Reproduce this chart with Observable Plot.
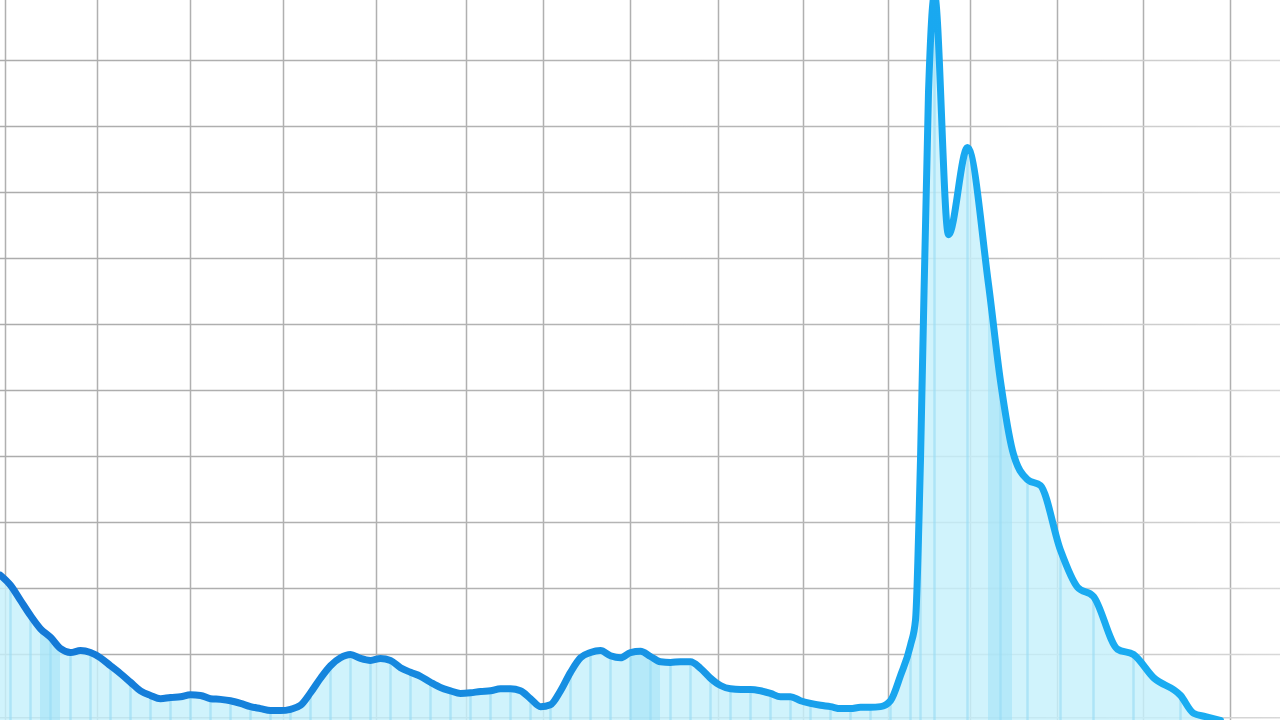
<!DOCTYPE html>
<html>
<head>
<meta charset="utf-8">
<script src="https://cdn.jsdelivr.net/npm/d3@7"></script>
<script src="https://cdn.jsdelivr.net/npm/@observablehq/plot@0.6"></script>
<style>
  html, body { margin: 0; padding: 0; background: #ffffff; overflow: hidden; }
  #chart svg { display: block; }
</style>
</head>
<body>
<div id="chart"></div>
<script>
// Sample positions (time axis) and series values
const xs = [0,10,20,30,40,50,60,70,80,90,100,110,120,130,140,150,160,170,180,190,200,210,220,230,240,250,260,270,280,290,300,310,320,330,340,350,360,370,380,390,400,410,420,430,440,450,460,470,480,490,500,510,520,530,540,550,560,570,580,590,600,610,620,630,640,650,660,670,680,690,700,710,720,730,740,750,760,770,780,790,800,810,820,830,840,850,860,870,880,890,900,910,915,920,928,934,948,967,988,1000,1012,1027,1040,1060,1077,1093,1117,1133,1153,1180,1193,1205,1220];
const values = [2.20,2.05,1.82,1.59,1.39,1.26,1.09,1.03,1.06,1.03,0.95,0.83,0.71,0.58,0.45,0.38,0.33,0.35,0.36,0.39,0.38,0.33,0.32,0.30,0.26,0.21,0.18,0.15,0.15,0.17,0.23,0.42,0.64,0.83,0.95,1.00,0.94,0.91,0.94,0.91,0.80,0.73,0.67,0.58,0.50,0.45,0.41,0.42,0.44,0.45,0.48,0.48,0.45,0.33,0.21,0.24,0.45,0.73,0.95,1.03,1.06,0.98,0.95,1.03,1.05,0.97,0.89,0.88,0.89,0.89,0.79,0.64,0.53,0.48,0.47,0.47,0.45,0.41,0.36,0.36,0.30,0.26,0.23,0.21,0.18,0.18,0.20,0.20,0.21,0.30,0.68,1.14,1.52,3.95,9.52,11.0,7.36,8.68,6.61,5.14,4.09,3.65,3.56,2.58,2.02,1.88,1.08,1.00,0.65,0.38,0.11,0.06,0.0];
// Grid ticks
const xGrid = [5,97,190,283,376,466,543,630,718,803,888,970,1057,1143,1230];
const yGrid = [0.04,1,2,3,4,5,6,7,8,9,10];
// Darker highlight bands (ranges along the time axis)
const bands = [[35,60],[630,660],[985,1012]];

const data = xs.map((x, i) => ({x, v: values[i]}));
const barData = data.filter((d, i) => i % 2 === 1 && d.v > 0);

const defs = () => {
  const svgNS = "http://www.w3.org/2000/svg";
  const g = document.createElementNS(svgNS, "defs");
  g.innerHTML = `
    <linearGradient id="lineGrad" gradientUnits="userSpaceOnUse" x1="0" y1="0" x2="1280" y2="0">
      <stop offset="0" stop-color="#1478d6"/>
      <stop offset="0.45" stop-color="#168fe2"/>
      <stop offset="0.72" stop-color="#19a8f0"/>
      <stop offset="1" stop-color="#1aaef2"/>
    </linearGradient>
    <linearGradient id="gridGrad" gradientUnits="userSpaceOnUse" x1="0" y1="0" x2="1280" y2="0">
      <stop offset="0" stop-color="#acacac"/>
      <stop offset="0.7" stop-color="#b8b8b8"/>
      <stop offset="1" stop-color="#d8d8d8"/>
    </linearGradient>`;
  return g;
};

const chart = Plot.plot({
  width: 1280,
  height: 720,
  margin: 0,
  style: {background: "#ffffff"},
  x: {domain: [0, 1280], axis: null},
  y: {domain: [0, 720 / 66], axis: null},
  marks: [
    defs,
    Plot.ruleX(xGrid, {stroke: "#b0b0b0", strokeWidth: 1.5}),
    Plot.ruleY(yGrid, {stroke: "url(#gridGrad)", strokeWidth: 1.5}),
    Plot.areaY(data, {x: "x", y: "v", fill: "#c6f0fb", fillOpacity: 0.82, curve: "monotone-x"}),
    ...bands.map(([a, b]) => Plot.areaY(data.filter(d => d.x >= a && d.x <= b), {x: "x", y: "v", fill: "#9fe0f6", fillOpacity: 0.55, curve: "monotone-x"})),
    Plot.ruleX(barData, {x: "x", y1: 0, y2: "v", stroke: "#96dbf3", strokeWidth: 2.5, strokeOpacity: 0.6}),
    Plot.lineY(data, {x: "x", y: "v", stroke: "url(#lineGrad)", strokeWidth: 7, strokeLinejoin: "round", strokeLinecap: "round", curve: "monotone-x"})
  ]
});
document.getElementById("chart").append(chart);
</script>
</body>
</html>
